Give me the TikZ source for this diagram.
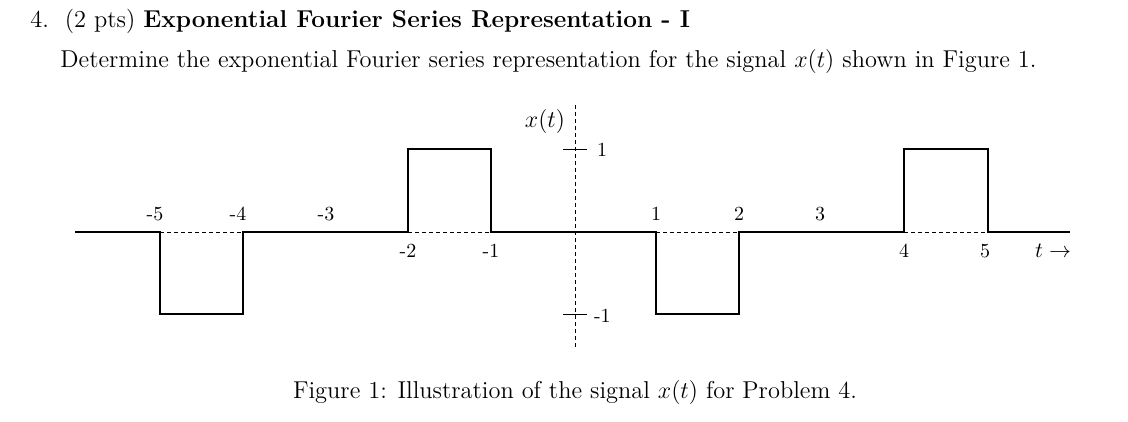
\documentclass[tikz,border=0pt]{standalone}
\begin{document}
\begin{tikzpicture}[x=0.5pt,y=-0.5pt,
  sig/.style={line width=0.9pt},
  dsh/.style={dash pattern=on 2pt off 1.5pt,line width=0.3pt},
  lab/.style={font=\fontsize{10}{12}\selectfont},
  txt/.style={font=\fontsize{12.2}{14}\selectfont,anchor=west,inner sep=0}]
\useasboundingbox (0,0) rectangle (1128,422);
\node[txt] (title) at (30,21) {4.\ \ (2 pts) \textbf{Exponential Fourier Series Representation - I}};
\node[txt] (body) at (60,62) {Determine the exponential Fourier series representation for the signal $x(t)$ shown in Figure 1.};
\node[txt,anchor=center] (cap) at (575,392) {Figure 1: Illustration of the signal $x(t)$ for Problem 4.};
% axes
\draw[dsh] (575,105) -- (575,350);
\draw[dsh] (160,232) -- (243,232);
\draw[dsh] (408,232) -- (491,232);
\draw[dsh] (656,232) -- (739,232);
\draw[dsh] (904,232) -- (988,232);
\draw[line width=0.3pt] (563,149) -- (587,149);
\draw[line width=0.3pt] (563,314) -- (587,314);
\node[lab,anchor=west] (y1) at (590,150) {1};
\node[lab,anchor=west] (ym1) at (587,316) {-1};
\node[font=\fontsize{12.2}{14}\selectfont] (xt) at (545,122) {$x(t)$};
% signal
\draw[sig] (75,232) -- (160,232) -- (160,314) -- (243,314) -- (243,232) -- (408,232) -- (408,149) -- (491,149) -- (491,232) -- (656,232) -- (656,314) -- (739,314) -- (739,232) -- (904,232) -- (904,149) -- (988,149) -- (988,232) -- (1070,232);
% labels
\node[lab] (a) at (155,214) {-5};
\node[lab] (b) at (238,214) {-4};
\node[lab] (c) at (326,214) {-3};
\node[lab] (d) at (656,214) {1};
\node[lab] (e) at (739,214) {2};
\node[lab] (f) at (820,214) {3};
\node[lab] (g) at (408,251) {-2};
\node[lab] (h) at (491,251) {-1};
\node[lab] (i) at (904,251) {4};
\node[lab] (j) at (985,251) {5};
\node[font=\fontsize{11}{12}\selectfont] (t) at (1053,251) {$t\rightarrow$};
\end{tikzpicture}
\end{document}
